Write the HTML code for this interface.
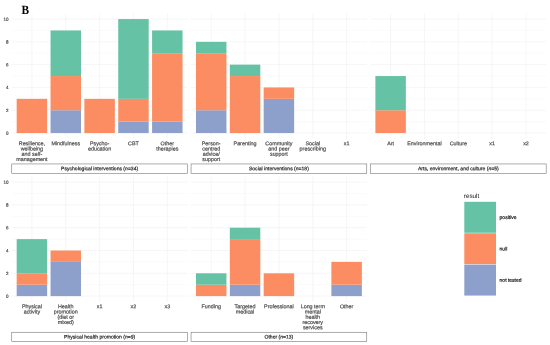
<!DOCTYPE html><html><head><meta charset="utf-8"><title>B</title><style>html,body{margin:0;padding:0;background:#fff}svg{display:block}text{font-family:"Liberation Sans",sans-serif;stroke-width:0.2px;paint-order:stroke;text-rendering:geometricPrecision}</style></head><body>
<svg width="550" height="345" viewBox="0 0 550 345">
<rect width="550" height="345" fill="#fff"/>
<defs><filter id="bl" x="-5%" y="-5%" width="110%" height="110%"><feGaussianBlur stdDeviation="0.28"/></filter></defs>
<line x1="11.60" x2="187.62" y1="121.65" y2="121.65" stroke="#ececec" stroke-width="0.28"/>
<line x1="11.60" x2="187.62" y1="98.85" y2="98.85" stroke="#ececec" stroke-width="0.28"/>
<line x1="11.60" x2="187.62" y1="76.05" y2="76.05" stroke="#ececec" stroke-width="0.28"/>
<line x1="11.60" x2="187.62" y1="53.25" y2="53.25" stroke="#ececec" stroke-width="0.28"/>
<line x1="11.60" x2="187.62" y1="30.45" y2="30.45" stroke="#ececec" stroke-width="0.28"/>
<line x1="11.60" x2="187.62" y1="133.05" y2="133.05" stroke="#ececec" stroke-width="0.5"/>
<line x1="11.60" x2="187.62" y1="110.25" y2="110.25" stroke="#ececec" stroke-width="0.5"/>
<line x1="11.60" x2="187.62" y1="87.45" y2="87.45" stroke="#ececec" stroke-width="0.5"/>
<line x1="11.60" x2="187.62" y1="64.65" y2="64.65" stroke="#ececec" stroke-width="0.5"/>
<line x1="11.60" x2="187.62" y1="41.85" y2="41.85" stroke="#ececec" stroke-width="0.5"/>
<line x1="11.60" x2="187.62" y1="19.05" y2="19.05" stroke="#ececec" stroke-width="0.5"/>
<line x1="31.91" x2="31.91" y1="13.35" y2="138.75" stroke="#ececec" stroke-width="0.5"/>
<line x1="65.76" x2="65.76" y1="13.35" y2="138.75" stroke="#ececec" stroke-width="0.5"/>
<line x1="99.61" x2="99.61" y1="13.35" y2="138.75" stroke="#ececec" stroke-width="0.5"/>
<line x1="133.46" x2="133.46" y1="13.35" y2="138.75" stroke="#ececec" stroke-width="0.5"/>
<line x1="167.31" x2="167.31" y1="13.35" y2="138.75" stroke="#ececec" stroke-width="0.5"/>
<rect x="16.68" y="98.85" width="30.47" height="34.20" fill="#FC8D62"/>
<rect x="50.53" y="110.25" width="30.47" height="22.80" fill="#8DA0CB"/>
<rect x="50.53" y="76.05" width="30.47" height="34.20" fill="#FC8D62"/>
<rect x="50.53" y="30.45" width="30.47" height="45.60" fill="#66C2A5"/>
<rect x="84.38" y="98.85" width="30.47" height="34.20" fill="#FC8D62"/>
<rect x="118.23" y="121.65" width="30.47" height="11.40" fill="#8DA0CB"/>
<rect x="118.23" y="98.85" width="30.47" height="22.80" fill="#FC8D62"/>
<rect x="118.23" y="19.05" width="30.47" height="79.80" fill="#66C2A5"/>
<rect x="152.08" y="121.65" width="30.47" height="11.40" fill="#8DA0CB"/>
<rect x="152.08" y="53.25" width="30.47" height="68.40" fill="#FC8D62"/>
<rect x="152.08" y="30.45" width="30.47" height="22.80" fill="#66C2A5"/>
<rect x="11.75" y="163.95" width="175.72" height="9.40" fill="#fff" stroke="#6a6a6a" stroke-width="0.55"/>
<line x1="190.90" x2="366.92" y1="121.65" y2="121.65" stroke="#ececec" stroke-width="0.28"/>
<line x1="190.90" x2="366.92" y1="98.85" y2="98.85" stroke="#ececec" stroke-width="0.28"/>
<line x1="190.90" x2="366.92" y1="76.05" y2="76.05" stroke="#ececec" stroke-width="0.28"/>
<line x1="190.90" x2="366.92" y1="53.25" y2="53.25" stroke="#ececec" stroke-width="0.28"/>
<line x1="190.90" x2="366.92" y1="30.45" y2="30.45" stroke="#ececec" stroke-width="0.28"/>
<line x1="190.90" x2="366.92" y1="133.05" y2="133.05" stroke="#ececec" stroke-width="0.5"/>
<line x1="190.90" x2="366.92" y1="110.25" y2="110.25" stroke="#ececec" stroke-width="0.5"/>
<line x1="190.90" x2="366.92" y1="87.45" y2="87.45" stroke="#ececec" stroke-width="0.5"/>
<line x1="190.90" x2="366.92" y1="64.65" y2="64.65" stroke="#ececec" stroke-width="0.5"/>
<line x1="190.90" x2="366.92" y1="41.85" y2="41.85" stroke="#ececec" stroke-width="0.5"/>
<line x1="190.90" x2="366.92" y1="19.05" y2="19.05" stroke="#ececec" stroke-width="0.5"/>
<line x1="211.21" x2="211.21" y1="13.35" y2="138.75" stroke="#ececec" stroke-width="0.5"/>
<line x1="245.06" x2="245.06" y1="13.35" y2="138.75" stroke="#ececec" stroke-width="0.5"/>
<line x1="278.91" x2="278.91" y1="13.35" y2="138.75" stroke="#ececec" stroke-width="0.5"/>
<line x1="312.76" x2="312.76" y1="13.35" y2="138.75" stroke="#ececec" stroke-width="0.5"/>
<line x1="346.61" x2="346.61" y1="13.35" y2="138.75" stroke="#ececec" stroke-width="0.5"/>
<rect x="195.98" y="110.25" width="30.47" height="22.80" fill="#8DA0CB"/>
<rect x="195.98" y="53.25" width="30.47" height="57.00" fill="#FC8D62"/>
<rect x="195.98" y="41.85" width="30.47" height="11.40" fill="#66C2A5"/>
<rect x="229.83" y="76.05" width="30.47" height="57.00" fill="#FC8D62"/>
<rect x="229.83" y="64.65" width="30.47" height="11.40" fill="#66C2A5"/>
<rect x="263.68" y="98.85" width="30.47" height="34.20" fill="#8DA0CB"/>
<rect x="263.68" y="87.45" width="30.47" height="11.40" fill="#FC8D62"/>
<rect x="191.05" y="163.95" width="175.72" height="9.40" fill="#fff" stroke="#6a6a6a" stroke-width="0.55"/>
<line x1="370.30" x2="546.32" y1="121.65" y2="121.65" stroke="#ececec" stroke-width="0.28"/>
<line x1="370.30" x2="546.32" y1="98.85" y2="98.85" stroke="#ececec" stroke-width="0.28"/>
<line x1="370.30" x2="546.32" y1="76.05" y2="76.05" stroke="#ececec" stroke-width="0.28"/>
<line x1="370.30" x2="546.32" y1="53.25" y2="53.25" stroke="#ececec" stroke-width="0.28"/>
<line x1="370.30" x2="546.32" y1="30.45" y2="30.45" stroke="#ececec" stroke-width="0.28"/>
<line x1="370.30" x2="546.32" y1="133.05" y2="133.05" stroke="#ececec" stroke-width="0.5"/>
<line x1="370.30" x2="546.32" y1="110.25" y2="110.25" stroke="#ececec" stroke-width="0.5"/>
<line x1="370.30" x2="546.32" y1="87.45" y2="87.45" stroke="#ececec" stroke-width="0.5"/>
<line x1="370.30" x2="546.32" y1="64.65" y2="64.65" stroke="#ececec" stroke-width="0.5"/>
<line x1="370.30" x2="546.32" y1="41.85" y2="41.85" stroke="#ececec" stroke-width="0.5"/>
<line x1="370.30" x2="546.32" y1="19.05" y2="19.05" stroke="#ececec" stroke-width="0.5"/>
<line x1="390.61" x2="390.61" y1="13.35" y2="138.75" stroke="#ececec" stroke-width="0.5"/>
<line x1="424.46" x2="424.46" y1="13.35" y2="138.75" stroke="#ececec" stroke-width="0.5"/>
<line x1="458.31" x2="458.31" y1="13.35" y2="138.75" stroke="#ececec" stroke-width="0.5"/>
<line x1="492.16" x2="492.16" y1="13.35" y2="138.75" stroke="#ececec" stroke-width="0.5"/>
<line x1="526.01" x2="526.01" y1="13.35" y2="138.75" stroke="#ececec" stroke-width="0.5"/>
<rect x="375.38" y="110.25" width="30.47" height="22.80" fill="#FC8D62"/>
<rect x="375.38" y="76.05" width="30.47" height="34.20" fill="#66C2A5"/>
<rect x="370.45" y="163.95" width="175.72" height="9.40" fill="#fff" stroke="#6a6a6a" stroke-width="0.55"/>
<line x1="11.60" x2="187.62" y1="284.70" y2="284.70" stroke="#ececec" stroke-width="0.28"/>
<line x1="11.60" x2="187.62" y1="261.90" y2="261.90" stroke="#ececec" stroke-width="0.28"/>
<line x1="11.60" x2="187.62" y1="239.10" y2="239.10" stroke="#ececec" stroke-width="0.28"/>
<line x1="11.60" x2="187.62" y1="216.30" y2="216.30" stroke="#ececec" stroke-width="0.28"/>
<line x1="11.60" x2="187.62" y1="193.50" y2="193.50" stroke="#ececec" stroke-width="0.28"/>
<line x1="11.60" x2="187.62" y1="296.10" y2="296.10" stroke="#ececec" stroke-width="0.5"/>
<line x1="11.60" x2="187.62" y1="273.30" y2="273.30" stroke="#ececec" stroke-width="0.5"/>
<line x1="11.60" x2="187.62" y1="250.50" y2="250.50" stroke="#ececec" stroke-width="0.5"/>
<line x1="11.60" x2="187.62" y1="227.70" y2="227.70" stroke="#ececec" stroke-width="0.5"/>
<line x1="11.60" x2="187.62" y1="204.90" y2="204.90" stroke="#ececec" stroke-width="0.5"/>
<line x1="11.60" x2="187.62" y1="182.10" y2="182.10" stroke="#ececec" stroke-width="0.5"/>
<line x1="31.91" x2="31.91" y1="176.40" y2="301.80" stroke="#ececec" stroke-width="0.5"/>
<line x1="65.76" x2="65.76" y1="176.40" y2="301.80" stroke="#ececec" stroke-width="0.5"/>
<line x1="99.61" x2="99.61" y1="176.40" y2="301.80" stroke="#ececec" stroke-width="0.5"/>
<line x1="133.46" x2="133.46" y1="176.40" y2="301.80" stroke="#ececec" stroke-width="0.5"/>
<line x1="167.31" x2="167.31" y1="176.40" y2="301.80" stroke="#ececec" stroke-width="0.5"/>
<rect x="16.68" y="284.70" width="30.47" height="11.40" fill="#8DA0CB"/>
<rect x="16.68" y="273.30" width="30.47" height="11.40" fill="#FC8D62"/>
<rect x="16.68" y="239.10" width="30.47" height="34.20" fill="#66C2A5"/>
<rect x="50.53" y="261.90" width="30.47" height="34.20" fill="#8DA0CB"/>
<rect x="50.53" y="250.50" width="30.47" height="11.40" fill="#FC8D62"/>
<rect x="11.75" y="332.25" width="175.72" height="9.30" fill="#fff" stroke="#6a6a6a" stroke-width="0.55"/>
<line x1="190.90" x2="366.92" y1="284.70" y2="284.70" stroke="#ececec" stroke-width="0.28"/>
<line x1="190.90" x2="366.92" y1="261.90" y2="261.90" stroke="#ececec" stroke-width="0.28"/>
<line x1="190.90" x2="366.92" y1="239.10" y2="239.10" stroke="#ececec" stroke-width="0.28"/>
<line x1="190.90" x2="366.92" y1="216.30" y2="216.30" stroke="#ececec" stroke-width="0.28"/>
<line x1="190.90" x2="366.92" y1="193.50" y2="193.50" stroke="#ececec" stroke-width="0.28"/>
<line x1="190.90" x2="366.92" y1="296.10" y2="296.10" stroke="#ececec" stroke-width="0.5"/>
<line x1="190.90" x2="366.92" y1="273.30" y2="273.30" stroke="#ececec" stroke-width="0.5"/>
<line x1="190.90" x2="366.92" y1="250.50" y2="250.50" stroke="#ececec" stroke-width="0.5"/>
<line x1="190.90" x2="366.92" y1="227.70" y2="227.70" stroke="#ececec" stroke-width="0.5"/>
<line x1="190.90" x2="366.92" y1="204.90" y2="204.90" stroke="#ececec" stroke-width="0.5"/>
<line x1="190.90" x2="366.92" y1="182.10" y2="182.10" stroke="#ececec" stroke-width="0.5"/>
<line x1="211.21" x2="211.21" y1="176.40" y2="301.80" stroke="#ececec" stroke-width="0.5"/>
<line x1="245.06" x2="245.06" y1="176.40" y2="301.80" stroke="#ececec" stroke-width="0.5"/>
<line x1="278.91" x2="278.91" y1="176.40" y2="301.80" stroke="#ececec" stroke-width="0.5"/>
<line x1="312.76" x2="312.76" y1="176.40" y2="301.80" stroke="#ececec" stroke-width="0.5"/>
<line x1="346.61" x2="346.61" y1="176.40" y2="301.80" stroke="#ececec" stroke-width="0.5"/>
<rect x="195.98" y="284.70" width="30.47" height="11.40" fill="#FC8D62"/>
<rect x="195.98" y="273.30" width="30.47" height="11.40" fill="#66C2A5"/>
<rect x="229.83" y="284.70" width="30.47" height="11.40" fill="#8DA0CB"/>
<rect x="229.83" y="239.10" width="30.47" height="45.60" fill="#FC8D62"/>
<rect x="229.83" y="227.70" width="30.47" height="11.40" fill="#66C2A5"/>
<rect x="263.68" y="273.30" width="30.47" height="22.80" fill="#FC8D62"/>
<rect x="331.38" y="284.70" width="30.47" height="11.40" fill="#8DA0CB"/>
<rect x="331.38" y="261.90" width="30.47" height="22.80" fill="#FC8D62"/>
<rect x="191.05" y="332.25" width="175.72" height="9.30" fill="#fff" stroke="#6a6a6a" stroke-width="0.55"/>
<rect x="464.3" y="201.82" width="31.7" height="30.96" fill="#66C2A5"/>
<rect x="464.3" y="233.22" width="31.7" height="30.96" fill="#FC8D62"/>
<rect x="464.3" y="264.62" width="31.7" height="30.96" fill="#8DA0CB"/>
<g filter="url(#bl)">
<text x="31.91" y="145.30" transform="rotate(0.03 31.91 145.30)" font-size="5.38" text-anchor="middle" fill="#4d4d4d" stroke="#4d4d4d">Resilience,</text>
<text x="31.91" y="150.50" transform="rotate(0.03 31.91 150.50)" font-size="5.38" text-anchor="middle" fill="#4d4d4d" stroke="#4d4d4d">wellbeing</text>
<text x="31.91" y="155.70" transform="rotate(0.03 31.91 155.70)" font-size="5.38" text-anchor="middle" fill="#4d4d4d" stroke="#4d4d4d">and self-</text>
<text x="31.91" y="160.90" transform="rotate(0.03 31.91 160.90)" font-size="5.38" text-anchor="middle" fill="#4d4d4d" stroke="#4d4d4d">management</text>
<text x="65.76" y="145.30" transform="rotate(0.03 65.76 145.30)" font-size="5.38" text-anchor="middle" fill="#4d4d4d" stroke="#4d4d4d">Mindfulness</text>
<text x="99.61" y="145.30" transform="rotate(0.03 99.61 145.30)" font-size="5.38" text-anchor="middle" fill="#4d4d4d" stroke="#4d4d4d">Psycho-</text>
<text x="99.61" y="150.50" transform="rotate(0.03 99.61 150.50)" font-size="5.38" text-anchor="middle" fill="#4d4d4d" stroke="#4d4d4d">education</text>
<text x="133.46" y="145.30" transform="rotate(0.03 133.46 145.30)" font-size="5.38" text-anchor="middle" fill="#4d4d4d" stroke="#4d4d4d">CBT</text>
<text x="167.31" y="145.30" transform="rotate(0.03 167.31 145.30)" font-size="5.38" text-anchor="middle" fill="#4d4d4d" stroke="#4d4d4d">Other</text>
<text x="167.31" y="150.50" transform="rotate(0.03 167.31 150.50)" font-size="5.38" text-anchor="middle" fill="#4d4d4d" stroke="#4d4d4d">therapies</text>
<text x="99.61" y="170.25" transform="rotate(0.03 99.61 170.25)" font-size="5.05" text-anchor="middle" fill="#2a2a2a" stroke="#2a2a2a" stroke-width="0.06">Psychological interventions (<tspan font-style="italic">n</tspan>=34)</text>
<text x="211.21" y="145.30" transform="rotate(0.03 211.21 145.30)" font-size="5.38" text-anchor="middle" fill="#4d4d4d" stroke="#4d4d4d">Person-</text>
<text x="211.21" y="150.50" transform="rotate(0.03 211.21 150.50)" font-size="5.38" text-anchor="middle" fill="#4d4d4d" stroke="#4d4d4d">centred</text>
<text x="211.21" y="155.70" transform="rotate(0.03 211.21 155.70)" font-size="5.38" text-anchor="middle" fill="#4d4d4d" stroke="#4d4d4d">advice/</text>
<text x="211.21" y="160.90" transform="rotate(0.03 211.21 160.90)" font-size="5.38" text-anchor="middle" fill="#4d4d4d" stroke="#4d4d4d">support</text>
<text x="245.06" y="145.30" transform="rotate(0.03 245.06 145.30)" font-size="5.38" text-anchor="middle" fill="#4d4d4d" stroke="#4d4d4d">Parenting</text>
<text x="278.91" y="145.30" transform="rotate(0.03 278.91 145.30)" font-size="5.38" text-anchor="middle" fill="#4d4d4d" stroke="#4d4d4d">Community</text>
<text x="278.91" y="150.50" transform="rotate(0.03 278.91 150.50)" font-size="5.38" text-anchor="middle" fill="#4d4d4d" stroke="#4d4d4d">and peer</text>
<text x="278.91" y="155.70" transform="rotate(0.03 278.91 155.70)" font-size="5.38" text-anchor="middle" fill="#4d4d4d" stroke="#4d4d4d">support</text>
<text x="312.76" y="145.30" transform="rotate(0.03 312.76 145.30)" font-size="5.38" text-anchor="middle" fill="#4d4d4d" stroke="#4d4d4d">Social</text>
<text x="312.76" y="150.50" transform="rotate(0.03 312.76 150.50)" font-size="5.38" text-anchor="middle" fill="#4d4d4d" stroke="#4d4d4d">prescribing</text>
<text x="346.61" y="145.30" transform="rotate(0.03 346.61 145.30)" font-size="5.38" text-anchor="middle" fill="#4d4d4d" stroke="#4d4d4d">x1</text>
<text x="278.91" y="170.25" transform="rotate(0.03 278.91 170.25)" font-size="5.05" text-anchor="middle" fill="#2a2a2a" stroke="#2a2a2a" stroke-width="0.06">Social interventions (<tspan font-style="italic">n</tspan>=18)</text>
<text x="390.61" y="145.30" transform="rotate(0.03 390.61 145.30)" font-size="5.38" text-anchor="middle" fill="#4d4d4d" stroke="#4d4d4d">Art</text>
<text x="424.46" y="145.30" transform="rotate(0.03 424.46 145.30)" font-size="5.38" text-anchor="middle" fill="#4d4d4d" stroke="#4d4d4d">Environmental</text>
<text x="458.31" y="145.30" transform="rotate(0.03 458.31 145.30)" font-size="5.38" text-anchor="middle" fill="#4d4d4d" stroke="#4d4d4d">Culture</text>
<text x="492.16" y="145.30" transform="rotate(0.03 492.16 145.30)" font-size="5.38" text-anchor="middle" fill="#4d4d4d" stroke="#4d4d4d">x1</text>
<text x="526.01" y="145.30" transform="rotate(0.03 526.01 145.30)" font-size="5.38" text-anchor="middle" fill="#4d4d4d" stroke="#4d4d4d">x2</text>
<text x="458.31" y="170.25" transform="rotate(0.03 458.31 170.25)" font-size="5.05" text-anchor="middle" fill="#2a2a2a" stroke="#2a2a2a" stroke-width="0.06">Arts, environment, and culture (<tspan font-style="italic">n</tspan>=5)</text>
<text x="8.6" y="134.70" transform="rotate(0.03 8.6 134.70)" font-size="4.5" text-anchor="end" fill="#4d4d4d" stroke="#4d4d4d">0</text>
<text x="8.6" y="111.90" transform="rotate(0.03 8.6 111.90)" font-size="4.5" text-anchor="end" fill="#4d4d4d" stroke="#4d4d4d">2</text>
<text x="8.6" y="89.10" transform="rotate(0.03 8.6 89.10)" font-size="4.5" text-anchor="end" fill="#4d4d4d" stroke="#4d4d4d">4</text>
<text x="8.6" y="66.30" transform="rotate(0.03 8.6 66.30)" font-size="4.5" text-anchor="end" fill="#4d4d4d" stroke="#4d4d4d">6</text>
<text x="8.6" y="43.50" transform="rotate(0.03 8.6 43.50)" font-size="4.5" text-anchor="end" fill="#4d4d4d" stroke="#4d4d4d">8</text>
<text x="8.6" y="20.70" transform="rotate(0.03 8.6 20.70)" font-size="4.5" text-anchor="end" fill="#4d4d4d" stroke="#4d4d4d">10</text>
<text x="31.91" y="308.35" transform="rotate(0.03 31.91 308.35)" font-size="5.38" text-anchor="middle" fill="#4d4d4d" stroke="#4d4d4d">Physical</text>
<text x="31.91" y="313.55" transform="rotate(0.03 31.91 313.55)" font-size="5.38" text-anchor="middle" fill="#4d4d4d" stroke="#4d4d4d">activity</text>
<text x="65.76" y="308.35" transform="rotate(0.03 65.76 308.35)" font-size="5.38" text-anchor="middle" fill="#4d4d4d" stroke="#4d4d4d">Health</text>
<text x="65.76" y="313.55" transform="rotate(0.03 65.76 313.55)" font-size="5.38" text-anchor="middle" fill="#4d4d4d" stroke="#4d4d4d">promotion</text>
<text x="65.76" y="318.75" transform="rotate(0.03 65.76 318.75)" font-size="5.38" text-anchor="middle" fill="#4d4d4d" stroke="#4d4d4d">(diet or</text>
<text x="65.76" y="323.95" transform="rotate(0.03 65.76 323.95)" font-size="5.38" text-anchor="middle" fill="#4d4d4d" stroke="#4d4d4d">mixed)</text>
<text x="99.61" y="308.35" transform="rotate(0.03 99.61 308.35)" font-size="5.38" text-anchor="middle" fill="#4d4d4d" stroke="#4d4d4d">x1</text>
<text x="133.46" y="308.35" transform="rotate(0.03 133.46 308.35)" font-size="5.38" text-anchor="middle" fill="#4d4d4d" stroke="#4d4d4d">x2</text>
<text x="167.31" y="308.35" transform="rotate(0.03 167.31 308.35)" font-size="5.38" text-anchor="middle" fill="#4d4d4d" stroke="#4d4d4d">x3</text>
<text x="99.61" y="338.50" transform="rotate(0.03 99.61 338.50)" font-size="5.05" text-anchor="middle" fill="#2a2a2a" stroke="#2a2a2a" stroke-width="0.06">Physical health promotion (<tspan font-style="italic">n</tspan>=9)</text>
<text x="211.21" y="308.35" transform="rotate(0.03 211.21 308.35)" font-size="5.38" text-anchor="middle" fill="#4d4d4d" stroke="#4d4d4d">Funding</text>
<text x="245.06" y="308.35" transform="rotate(0.03 245.06 308.35)" font-size="5.38" text-anchor="middle" fill="#4d4d4d" stroke="#4d4d4d">Targeted</text>
<text x="245.06" y="313.55" transform="rotate(0.03 245.06 313.55)" font-size="5.38" text-anchor="middle" fill="#4d4d4d" stroke="#4d4d4d">medical</text>
<text x="278.91" y="308.35" transform="rotate(0.03 278.91 308.35)" font-size="5.38" text-anchor="middle" fill="#4d4d4d" stroke="#4d4d4d">Professional</text>
<text x="312.76" y="308.35" transform="rotate(0.03 312.76 308.35)" font-size="5.38" text-anchor="middle" fill="#4d4d4d" stroke="#4d4d4d">Long term</text>
<text x="312.76" y="313.55" transform="rotate(0.03 312.76 313.55)" font-size="5.38" text-anchor="middle" fill="#4d4d4d" stroke="#4d4d4d">mental</text>
<text x="312.76" y="318.75" transform="rotate(0.03 312.76 318.75)" font-size="5.38" text-anchor="middle" fill="#4d4d4d" stroke="#4d4d4d">health</text>
<text x="312.76" y="323.95" transform="rotate(0.03 312.76 323.95)" font-size="5.38" text-anchor="middle" fill="#4d4d4d" stroke="#4d4d4d">recovery</text>
<text x="312.76" y="329.15" transform="rotate(0.03 312.76 329.15)" font-size="5.38" text-anchor="middle" fill="#4d4d4d" stroke="#4d4d4d">services</text>
<text x="346.61" y="308.35" transform="rotate(0.03 346.61 308.35)" font-size="5.38" text-anchor="middle" fill="#4d4d4d" stroke="#4d4d4d">Other</text>
<text x="278.91" y="338.50" transform="rotate(0.03 278.91 338.50)" font-size="5.05" text-anchor="middle" fill="#2a2a2a" stroke="#2a2a2a" stroke-width="0.06">Other (<tspan font-style="italic">n</tspan>=13)</text>
<text x="8.6" y="297.75" transform="rotate(0.03 8.6 297.75)" font-size="4.5" text-anchor="end" fill="#4d4d4d" stroke="#4d4d4d">0</text>
<text x="8.6" y="274.95" transform="rotate(0.03 8.6 274.95)" font-size="4.5" text-anchor="end" fill="#4d4d4d" stroke="#4d4d4d">2</text>
<text x="8.6" y="252.15" transform="rotate(0.03 8.6 252.15)" font-size="4.5" text-anchor="end" fill="#4d4d4d" stroke="#4d4d4d">4</text>
<text x="8.6" y="229.35" transform="rotate(0.03 8.6 229.35)" font-size="4.5" text-anchor="end" fill="#4d4d4d" stroke="#4d4d4d">6</text>
<text x="8.6" y="206.55" transform="rotate(0.03 8.6 206.55)" font-size="4.5" text-anchor="end" fill="#4d4d4d" stroke="#4d4d4d">8</text>
<text x="8.6" y="183.75" transform="rotate(0.03 8.6 183.75)" font-size="4.5" text-anchor="end" fill="#4d4d4d" stroke="#4d4d4d">10</text>
<text x="463.8" y="198" transform="rotate(0.03 463.8 198)" font-size="6.3" fill="#111" stroke="none">result</text>
<text x="499.6" y="219.00" transform="rotate(0.03 499.6 219.00)" font-size="5.0" fill="#222" stroke="#222" stroke-width="0.05">positive</text>
<text x="499.6" y="250.40" transform="rotate(0.03 499.6 250.40)" font-size="5.0" fill="#222" stroke="#222" stroke-width="0.05">null</text>
<text x="499.6" y="281.80" transform="rotate(0.03 499.6 281.80)" font-size="5.0" fill="#222" stroke="#222" stroke-width="0.05">not tested</text>
<text transform="translate(21.6 14) scale(0.91 1)" x="0" y="0" font-size="12.5" font-weight="bold" fill="#000" stroke="none" style="font-family:'Liberation Serif',serif">B</text>
</g>
</svg></body></html>
